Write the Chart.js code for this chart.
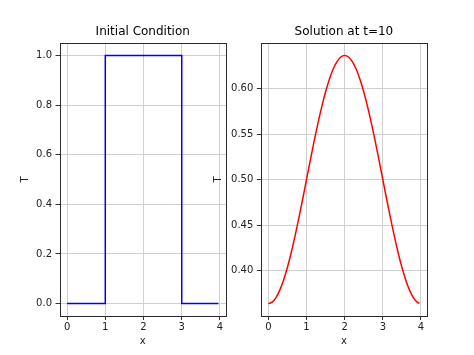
<!DOCTYPE html>
<html><head><meta charset="utf-8">
<script src="https://cdn.jsdelivr.net/npm/chart.js@4"></script>
<style>
html,body{margin:0;padding:0;background:#fff;}
#wrap{position:relative;width:474px;height:355px;background:#fff;}
canvas{position:absolute;left:0;top:0;}
</style>
</head><body>
<div id="wrap"><canvas id="c1" width="474" height="355"></canvas><canvas id="c2" width="474" height="355"></canvas></div>
<script>
// ---- data ----
const xInit = [0, 1, 1, 3, 3, 3.96];
const tInit = [0, 0, 1, 1, 0, 0];

const xSol = [0,0.1,0.2,0.3,0.4,0.5,0.6,0.7,0.8,0.9,1.0,1.1,1.2,1.3,1.4,1.5,1.6,1.7,1.8,1.9,2.0,
              2.1,2.2,2.3,2.4,2.5,2.6,2.7,2.8,2.9,3.0,3.1,3.2,3.3,3.4,3.5,3.6,3.7,3.8,3.9,3.96];
const tSol = [0.3635,0.3652,0.3702,0.3784,0.3896,0.4035,0.4198,0.4380,0.4578,0.4786,0.5000,
              0.5214,0.5422,0.5620,0.5802,0.5965,0.6104,0.6216,0.6298,0.6348,0.6365,
              0.6348,0.6298,0.6216,0.6104,0.5965,0.5802,0.5620,0.5422,0.5214,0.5000,
              0.4786,0.4578,0.4380,0.4198,0.4035,0.3896,0.3784,0.3702,0.3652,0.3638];

const xTicks = [0, 1, 2, 3, 4];
const xTickLabels = ['0', '1', '2', '3', '4'];
const yTicksInit = [0.0, 0.2, 0.4, 0.6, 0.8, 1.0];
const yTickLabelsInit = ['0.0', '0.2', '0.4', '0.6', '0.8', '1.0'];
const yTicksSol = [0.40, 0.45, 0.50, 0.55, 0.60];
const yTickLabelsSol = ['0.40', '0.45', '0.50', '0.55', '0.60'];

const titleInit = 'Initial Condition';
const titleSol = 'Solution at t=10';

// ---- chart setup ----
Chart.defaults.font.family = "'DejaVu Sans', sans-serif";

const frame = {
  id: 'frame',
  afterDraw(chart) {
    const a = chart.chartArea, ctx = chart.ctx;
    ctx.save();
    ctx.strokeStyle = '#2b2b2b';
    ctx.lineWidth = 1;
    ctx.strokeRect(Math.round(a.left) + 0.5, Math.round(a.top) + 0.5,
                   Math.round(a.right) - Math.round(a.left), Math.round(a.bottom) - Math.round(a.top));
    ctx.restore();
  }
};

function makeChart(id, cfg) {
  const pts = cfg.xs.map((x, i) => ({x: x, y: cfg.ys[i]}));
  return new Chart(document.getElementById(id), {
    type: 'line',
    data: { datasets: [{ data: pts, borderColor: cfg.color, borderWidth: 1.5,
      pointRadius: 0, fill: false, tension: cfg.smooth ? 0.4 : 0,
      cubicInterpolationMode: cfg.smooth ? 'monotone' : 'default' }] },
    options: {
      responsive: false, animation: false, devicePixelRatio: 1,
      layout: { padding: { left: cfg.padLeft, right: cfg.padRight, top: 0, bottom: 0 } },
      plugins: {
        legend: { display: false }, tooltip: { enabled: false },
        title: { display: true, text: cfg.title, fullSize: false, color: '#000',
          font: { size: 12, weight: 'normal' }, padding: { top: 24.5, bottom: 4.1 } }
      },
      scales: {
        x: {
          type: 'linear', min: -0.198, max: 4.158,
          afterBuildTicks: s => { s.ticks = xTicks.map(v => ({ value: v })); },
          afterFit: s => { s.height = 39; },
          ticks: { font: { size: 10 }, color: '#222', padding: 1, maxRotation: 0,
            callback: (v, i) => xTickLabels[i] },
          grid: { color: '#d0d0d0', lineWidth: 1, tickLength: 4, tickColor: '#333', drawTicks: true },
          border: { display: false },
          title: { display: true, text: 'x', color: '#222', font: { size: 10 }, padding: { top: 0, bottom: 7.3 } }
        },
        y: {
          type: 'linear', min: cfg.yMin, max: cfg.yMax,
          afterBuildTicks: s => { s.ticks = cfg.yTicks.map(v => ({ value: v })); },
          afterFit: s => { s.width = cfg.yWidth; },
          ticks: { font: { size: 10 }, color: '#222', padding: 3.5,
            callback: (v, i) => cfg.yLabels[i] },
          grid: { color: '#d0d0d0', lineWidth: 1, tickLength: 4, tickColor: '#333', drawTicks: true },
          border: { display: false },
          title: { display: true, text: 'T', color: '#222', font: { size: 10 }, padding: { top: cfg.yTitlePad, bottom: 0 } }
        }
      }
    },
    plugins: [frame]
  });
}

makeChart('c1', { xs: xInit, ys: tInit, color: '#0000ff', smooth: false, title: titleInit,
  yMin: -0.05, yMax: 1.05, yTicks: yTicksInit, yLabels: yTickLabelsInit,
  padLeft: 0, padRight: 248, yWidth: 59.5, yTitlePad: 19 });

makeChart('c2', { xs: xSol, ys: tSol, color: '#ff0000', smooth: true, title: titleSol,
  yMin: 0.3499, yMax: 0.6502, yTicks: yTicksSol, yLabels: yTickLabelsSol,
  padLeft: 200, padRight: 47, yWidth: 60.8, yTitlePad: 12.5 });
</script>
</body></html>
